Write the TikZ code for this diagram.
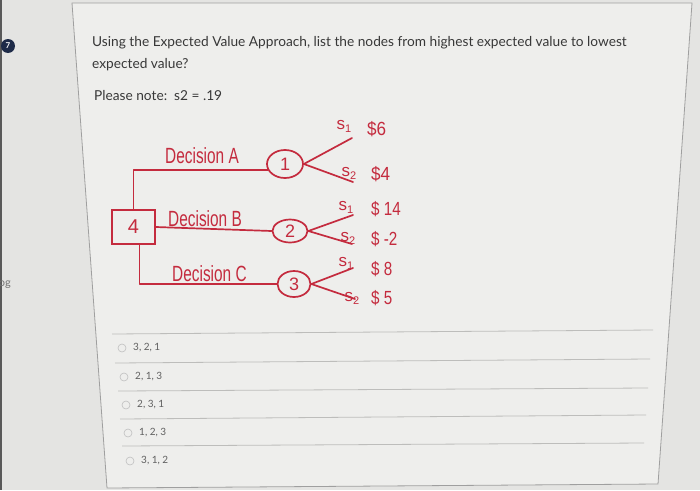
\documentclass[tikz,border=0pt]{standalone}
\usepackage{fontspec}
\setmainfont{Lato}
\newfontfamily\handfont{Liberation Sans}
\usetikzlibrary{shapes.geometric}
\definecolor{pen}{HTML}{C42B3E}
\definecolor{ink}{HTML}{383838}
\definecolor{outerbg}{HTML}{E4E4E2}
\definecolor{panelbg}{HTML}{EEEEEC}
\definecolor{rule}{HTML}{BDBDBB}
\definecolor{badge}{HTML}{1E2B48}
\tikzset{
  hand/.style={text=pen, font=\handfont, inner sep=0pt},
  penline/.style={draw=pen, line width=1.7pt, line cap=round, line join=round},
  chance/.style={ellipse, draw=pen, line width=1.7pt, inner sep=0pt, text=pen, font=\handfont\fontsize{18}{18}\selectfont},
  decbox/.style={rectangle, draw=pen, line width=1.7pt, inner sep=0pt, text=pen, font=\handfont\fontsize{20}{20}\selectfont},
  qtext/.style={text=ink, anchor=west, inner sep=0pt, font=\fontsize{13.7}{16}\selectfont},
  atext/.style={text=ink!80, anchor=west, inner sep=0pt, font=\fontsize{10}{12}\selectfont},
  radio/.style={circle, draw=gray!50, line width=0.6pt, minimum size=8pt, inner sep=0pt},
  sepline/.style={draw=rule, line width=0.8pt},
  declabel/.style={hand, anchor=base west, font=\handfont\fontsize{22}{22}\selectfont},
  st/.style={hand, anchor=base, font=\handfont\fontsize{17}{17}\selectfont},
  pay/.style={hand, anchor=base west, font=\handfont\fontsize{19}{19}\selectfont},
}
\newcommand{\hw}[2]{\scalebox{#1}[1]{#2}}
\newcommand{\sub}[1]{\raisebox{-3pt}{\fontsize{11}{11}\selectfont #1}}
\begin{document}
\begin{tikzpicture}[x=1pt,y=-1pt]
\useasboundingbox (0,0) rectangle (700,490);
\fill[outerbg] (0,0) rectangle (700,490);
\draw[gray!70!black, line width=2pt] (1,0) -- (1,490);
% panel
\path[fill=panelbg, draw=gray!75, line width=0.8pt] (72,3) -- (692,3) -- (658,484) -- (107,488) -- cycle;
% badge and side text
\node[circle, fill=badge, minimum size=14pt, inner sep=0pt, text=white, font=\bfseries\fontsize{8}{8}\selectfont] (badge) at (8,46) {7};
\node[anchor=east, inner sep=0pt, text=ink!70, font=\fontsize{11}{11}\selectfont] (side) at (11,285) {og};
% question
\node[qtext] (q1) at (92,43) {Using the Expected Value Approach, list the nodes from highest expected value to lowest};
\node[qtext] (q2) at (92,65) {expected value?};
\node[qtext] (q3) at (94,96) {Please note:\ \ s2 = .19};
% decision tree
\node[decbox, minimum width=43pt, minimum height=34pt] (n4) at (133.5,227) {4};
\node[chance, minimum width=36pt, minimum height=28pt] (c1) at (285,164) {1};
\node[chance, minimum width=35pt, minimum height=23pt] (c2) at (290,231) {2};
\node[chance, minimum width=33pt, minimum height=26pt] (c3) at (294,284) {3};
\draw[penline] (n4.north) |- (c1.200);
\draw[penline] (n4.east) -- (c2.west);
\draw[penline] ([xshift=6pt]n4.south) |- (c3.west);
\coordinate (a1) at (352,138);
\coordinate (a2) at (353,182);
\coordinate (b1) at (353,215);
\coordinate (b2) at (352,244);
\coordinate (e1) at (353,268);
\coordinate (e2) at (355,299);
\draw[penline] (c1.east) -- (a1);
\draw[penline] (c1.east) -- (a2);
\draw[penline] (c2.east) -- (b1);
\draw[penline] (c2.east) -- (b2);
\draw[penline] (c3.east) -- (e1);
\draw[penline] (c3.east) -- (e2);
% decision labels
\node[declabel] (la) at (165,163) {\hw{0.7}{Decision A}};
\node[declabel] (lb) at (168,226) {\hw{0.7}{Decision B}};
\node[declabel] (lc) at (172,281) {\hw{0.7}{Decision C}};
% state labels and payoffs
\node[st] (sa1) at (344,129) {s\sub{1}};
\node[pay] (pa1) at (367,135) {\hw{0.9}{\$6}};
\node[st] (sa2) at (349,176) {s\sub{2}};
\node[pay] (pa2) at (371,180) {\hw{0.9}{\$4}};
\node[st] (sb1) at (346,210) {s\sub{1}};
\node[pay] (pb1) at (371,215) {\hw{0.8}{\$ 14}};
\node[st] (sb2) at (348,241) {s\sub{2}};
\node[pay] (pb2) at (371,245) {\hw{0.8}{\$ -2}};
\node[st] (sc1) at (346,266) {s\sub{1}};
\node[pay] (pc1) at (371,275) {\hw{0.8}{\$ 8}};
\node[st] (sc2) at (352,301) {s\sub{2}};
\node[pay] (pc2) at (371,304) {\hw{0.8}{\$ 5}};
% answer choices
\draw[sepline] (112,334) -- (653,330);
\draw[sepline] (115,363) -- (650,359);
\draw[sepline] (118,391) -- (648,388);
\draw[sepline] (120,419) -- (646,415);
\draw[sepline] (122,446) -- (644,443);
\node[radio] (r1) at (122,348) {};
\node[radio] (r2) at (124,377) {};
\node[radio] (r3) at (126,405) {};
\node[radio] (r4) at (128,433) {};
\node[radio] (r5) at (130,461) {};
\node[atext] (t1) at (133,348) {3, 2, 1};
\node[atext] (t2) at (135,377) {2, 1, 3};
\node[atext] (t3) at (137,405) {2, 3, 1};
\node[atext] (t4) at (139,433) {1, 2, 3};
\node[atext] (t5) at (141,461) {3, 1, 2};
\end{tikzpicture}
\end{document}
